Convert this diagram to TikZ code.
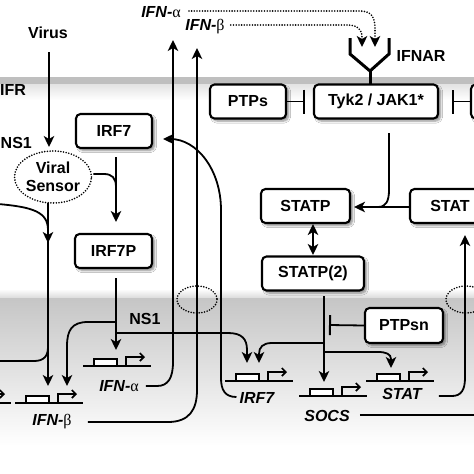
\documentclass[tikz,border=0pt]{standalone}
\usepackage{fontspec}
\setmainfont{Liberation Sans}
\newfontfamily\grk{Liberation Serif}
\usetikzlibrary{arrows.meta,shadows,shadows.blur,shapes.geometric,calc}
\newcommand{\gk}[1]{{\grk\mdseries\upshape #1}}
\begin{document}
\begin{tikzpicture}[x=1pt,y=-1pt,
  txt/.style={font=\bfseries\fontsize{16}{18}\selectfont, inner sep=0pt},
  box/.style={txt, draw, line width=2.1pt, rounded corners=4.5pt, fill=white, minimum height=34pt,
     blur shadow={shadow xshift=2.5pt, shadow yshift=-2.5pt, shadow blur steps=6, shadow opacity=45}},
  glab/.style={font=\bfseries\itshape\fontsize{16}{18}\selectfont, inner sep=0pt},
  conn/.style={line width=1.8pt},
  tip/.tip={Stealth[length=11pt,width=10.5pt,inset=3pt]},
  arr/.style={conn, -tip},
  inh/.style={conn, -{Bar[width=24pt,line width=2pt]}},
  dots/.style={line width=1.8pt, dash pattern=on 0pt off 2.7pt, line cap=round},
  gene/.pic={
    \draw[line width=1.7pt] (0,0) -- (68,0);
    \draw[line width=1.7pt, fill=white] (11,0) rectangle (34,-7);
    \draw[line width=1.7pt, -{Straight Barb[length=4pt,width=8pt]}] (43,0) -- (43,-9) -- (62,-9);
  }]
\useasboundingbox (0,0) rectangle (474,474);
% background
\fill[white] (0,0) rectangle (474,474);
\fill[gray!50] (0,77) rectangle (474,84);
\shade[top color=gray!22, bottom color=white] (0,84) rectangle (474,100);
\shade[top color=white, bottom color=gray!28] (0,289) rectangle (474,298);
\shade[top color=gray!45, bottom color=white] (0,298) rectangle (474,446);

% receptor
\draw[line width=3pt] (350,38) -- (350,54) -- (370,71) -- (389,54) -- (389,38);
\draw[line width=3pt] (370,71) -- (370,86);

% nodes
\node[txt] (virus) at (48,33) {Virus};
\node[txt, anchor=west] (ifr) at (0,90) {IFR};
\node[txt, anchor=west] (ns1l) at (0.5,143) {NS1};
\node[txt, draw, dots, ellipse, minimum width=77pt, minimum height=52pt, align=center] (vs) at (53,177) {Viral\\Sensor};
\node[box, minimum width=76pt] (irf7) at (114,131) {IRF7};
\node[box, minimum width=77pt] (irf7p) at (113.5,251) {IRF7P};
\node[box, minimum width=76pt] (ptps) at (248,101.5) {PTPs};
\node[box, minimum width=124pt] (tyk) at (376,101.5) {Tyk2 / JAK1*};
\node[box, minimum width=80pt] (rbox) at (511,101.5) {};
\node[box, minimum width=89pt] (statp) at (305.5,206) {STATP};
\node[box, minimum width=80pt] (stat) at (450,206) {STAT};
\node[box, minimum width=102pt] (statp2) at (313,273.5) {STATP(2)};
\node[box, minimum width=78pt, minimum height=35pt] (ptpsn) at (404,325.5) {PTPsn};
\node[txt] (ns1) at (145,319) {NS1};
\node[txt] (ifnar) at (421,56) {IFNAR};
\node[glab] (ifna) at (161,12) {IFN-\gk{α}};
\node[glab] (ifnb) at (205,27) {IFN-\gk{β}};

% genes
\pic at (-57,403) {gene};
\pic (gb) at (15,403) {gene};
\pic (ga) at (83,366) {gene};
\pic (gi) at (225,381) {gene};
\pic (gs) at (299,396) {gene};
\pic (gt) at (366,381) {gene};
\node[glab] (lb) at (52,422) {IFN-\gk{β}};
\node[glab] (la) at (119,386) {IFN-\gk{α}};
\node[glab] (li) at (257,398) {IRF7};
\node[glab] (ls) at (327,416) {SOCS};
\node[glab] (lt) at (402,394) {STAT};

% pores
\draw[dots] (197,299.5) ellipse (20 and 13.5);
\draw[dots] (466,299.5) ellipse (20 and 13.5);

% IFN signals to receptor
\draw[dots, -tip] ($(ifna.east)+(8,-1)$) -- (360,11) .. controls (371,11) and (375,17) .. (375,28) -- (375,47);
\draw[dots, -tip] ($(ifnb.east)+(6,-2)$) -- (347,25) .. controls (357,25) and (362,29) .. (362,37) -- (362,47);

% virus pathway
\draw[arr] ($(virus.south)+(1,13)$) -- (49,147);
\draw[arr] (48,203) -- (48,386);
\draw[arr] (-2,204) .. controls (33,207) and (48,212) .. (48,230) -- (48,243);
\draw[conn] (-2,361) -- (34,361) .. controls (44,361) and (48,356) .. (48,347);
\draw[conn] (vs.east) ++(1,-3) -- (104,174) .. controls (112,174) and (116,178) .. (116,187);
\draw[arr] (116,157) -- (116,222);
\draw[arr] (116,278) -- (116,350);
\draw[arr] (116,322) -- (88,322) .. controls (72,322) and (67,330) .. (67,346) -- (67,386);
\draw[arr] (116,333) -- (228,333) .. controls (242,333) and (247,339) .. (247,350) -- (247,363);

% IFN genes up to top
\draw[arr] ($(la.east)+(7,0)$) -- (157,386) .. controls (168,386) and (173,378) .. (173,362) -- (173,40);
\draw[arr] ($(lb.east)+(16,0)$) -- (168,422) .. controls (189,422) and (197,410) .. (197,390) -- (197,48);
% IRF7 gene to IRF7 protein
\draw[arr] ($(li.west)+(-3,-1)$) .. controls (225,397) and (221,390) .. (221,378) -- (221,210) .. controls (221,170) and (197,139) .. (163,139);

% JAK-STAT
\draw[inh] (ptps.east) -- (305,101.5);
\draw[inh] (rbox.west) -- (452,101.5);
\draw[conn] (389,133) -- (389,190) .. controls (389,201) and (386,207) .. (378,207);
\draw[arr] (stat.west |- 0,207) -- (354,207);
\draw[conn, tip-tip] (313,224) -- (313,255);
\draw[arr] (324,296) -- (324,382);
\draw[conn, -{Bar[width=20pt,line width=2pt]}] (ptpsn.west) -- (329,325);
\draw[arr] (324,343) -- (272,343) .. controls (263,343) and (259,347) .. (259,354) -- (259,363);
\draw[arr] (324,352) -- (378,352) .. controls (386,352) and (391,354) .. (391,359) -- (391,368);
\draw[arr] ($(lt.east)+(17,2)$) -- (452,396) .. controls (461,396) and (465,390) .. (465,378) -- (465,235);
\draw[conn] ($(ls.east)+(10,-1)$) -- (476,415);
\end{tikzpicture}
\end{document}
